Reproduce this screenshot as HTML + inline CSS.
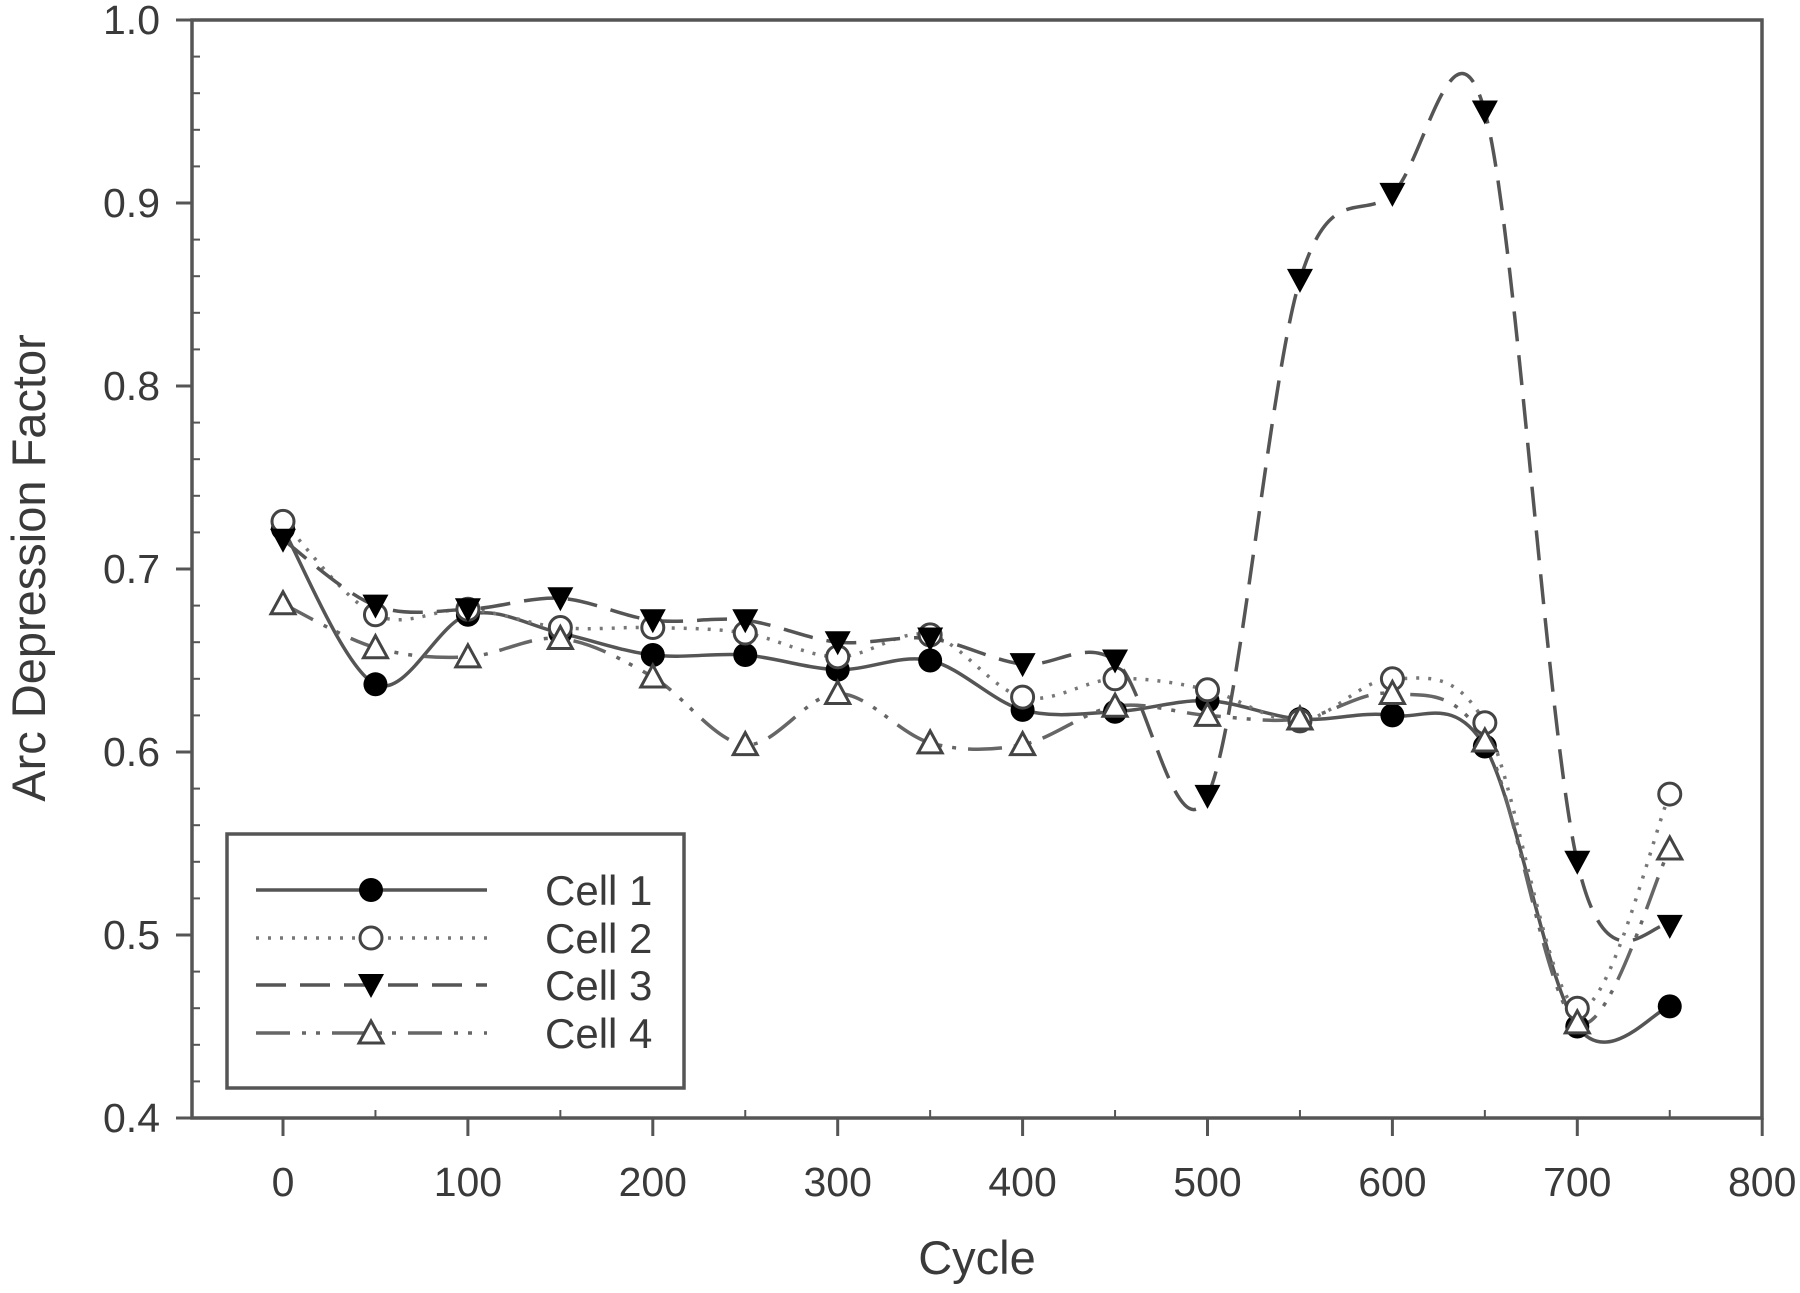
<!DOCTYPE html>
<html><head><meta charset="utf-8"><style>
html,body{margin:0;padding:0;background:#fff}
svg{display:block}
text{font-family:"Liberation Sans",Arial,sans-serif;fill:#3a3a3a}
</style></head><body>
<svg id="s" width="1800" height="1293" viewBox="0 0 1800 1293" xmlns="http://www.w3.org/2000/svg">
<rect x="192" y="20" width="1570" height="1098" fill="none" stroke="#555" stroke-width="3.5"/>
<g id="ticks" stroke="#555" stroke-width="3"></g>
<g id="labels" font-size="41"></g>
<text x="977" y="1274" font-size="47" text-anchor="middle">Cycle</text>
<text transform="translate(45,568) rotate(-90)" font-size="47" text-anchor="middle">Arc Depression Factor</text>
<g id="series"></g>
<rect x="227" y="834" width="457" height="254" fill="#fff" stroke="#555" stroke-width="3.5"/>
<g id="legend"></g>
</svg>
<script>
var NS="http://www.w3.org/2000/svg";
function X(v){return 283+v*1.849}
function Y(v){return 1118-(v-0.4)*1830}
function el(t,a,p){var e=document.createElementNS(NS,t);for(var k in a)e.setAttribute(k,a[k]);p.appendChild(e);return e}
var tk=document.getElementById('ticks'),lb=document.getElementById('labels');
for(var i=0;i<=6;i++){var v=0.4+i*0.1,y=Y(v);el('line',{x1:176,y1:y,x2:192,y2:y},tk);
 var t=el('text',{x:160,y:y+14,'text-anchor':'end'},lb);t.textContent=v.toFixed(1);
 if(i<6)for(var j=1;j<5;j++){var yy=Y(v+j*0.02);el('line',{x1:192,y1:yy,x2:200,y2:yy,'stroke-width':2},tk);}}
for(var c=0;c<=800;c+=100){var x=X(c);el('line',{x1:x,y1:1118,x2:x,y2:1136},tk);
 var t=el('text',{x:x,y:1196,'text-anchor':'middle'},lb);t.textContent=c;
 if(c<800)el('line',{x1:X(c+50),y1:1110,x2:X(c+50),y2:1118,'stroke-width':2},tk);}
var xs=[0,50,100,150,200,250,300,350,400,450,500,550,600,650,700,750];
var D=[
[0.722,0.637,0.675,0.665,0.653,0.653,0.645,0.650,0.623,0.622,0.628,0.618,0.620,0.603,0.450,0.461],
[0.726,0.675,0.678,0.668,0.668,0.665,0.652,0.664,0.630,0.640,0.634,0.617,0.640,0.616,0.460,0.577],
[0.716,0.680,0.678,0.684,0.672,0.672,0.660,0.662,0.648,0.650,0.576,0.858,0.905,0.950,0.540,0.505],
[0.681,0.657,0.652,0.662,0.641,0.604,0.632,0.605,0.604,0.625,0.620,0.618,0.632,0.606,0.452,0.547]];
var dash=["none","3 9","30 14","34 12 4 10 4 12"];
var col=["#555","#777","#555","#666"];
function path(p){var d="M"+p[0][0]+","+p[0][1];for(var i=0;i<p.length-1;i++){var p0=p[Math.max(i-1,0)],p1=p[i],p2=p[i+1],p3=p[Math.min(i+2,p.length-1)];
 var c1=[p1[0]+(p2[0]-p0[0])/6,p1[1]+(p2[1]-p0[1])/6],c2=[p2[0]-(p3[0]-p1[0])/6,p2[1]-(p3[1]-p1[1])/6];
 d+=" C"+c1+" "+c2+" "+p2;}return d}
function marker(k,x,y,g){
 if(k==0)el('circle',{cx:x,cy:y,r:12,fill:'#000'},g);
 else if(k==1)el('circle',{cx:x,cy:y,r:11,fill:'#fff',stroke:'#444','stroke-width':3},g);
 else if(k==2)el('polygon',{points:(x-13)+","+(y-11)+" "+(x+13)+","+(y-11)+" "+x+","+(y+13),fill:'#000'},g);
 else el('polygon',{points:(x-12)+","+(y+10)+" "+(x+12)+","+(y+10)+" "+x+","+(y-12),fill:'#fff',stroke:'#444','stroke-width':3},g);}
var sg=document.getElementById('series');
for(var k=0;k<4;k++){var p=xs.map(function(v,i){return [X(v),Y(D[k][i])]});
 el('path',{d:path(p),fill:'none',stroke:col[k],'stroke-width':3.5,'stroke-dasharray':dash[k]},sg);}
for(var k=0;k<4;k++){xs.forEach(function(v,i){marker(k,X(v),Y(D[k][i]),sg)});}
var lg=document.getElementById('legend');var ry=[890,938,985,1033];var names=["Cell 1","Cell 2","Cell 3","Cell 4"];
for(var k=0;k<4;k++){el('line',{x1:256,y1:ry[k],x2:487,y2:ry[k],stroke:col[k],'stroke-width':3.5,'stroke-dasharray':dash[k]},lg);
 marker(k,371,ry[k],lg);var t=el('text',{x:545,y:ry[k]+15,'font-size':42},lg);t.textContent=names[k];}
</script>
</body></html>
